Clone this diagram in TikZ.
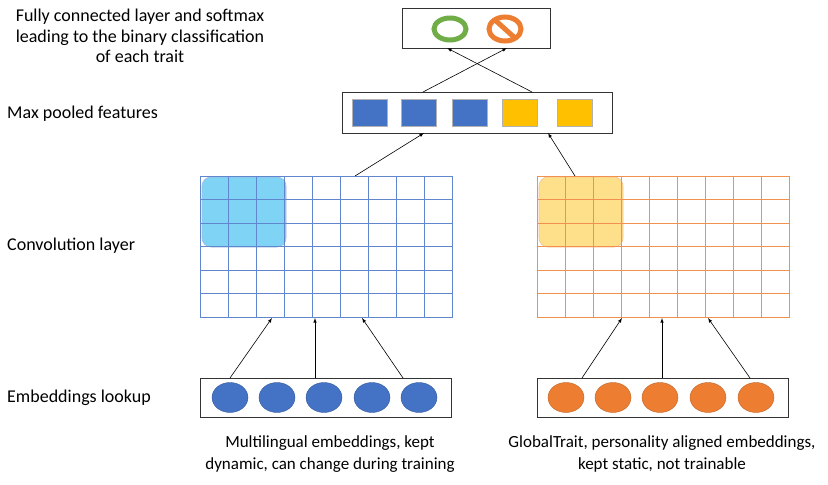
\documentclass[tikz,border=0pt]{standalone}
\usepackage{fontspec}
\setmainfont{Carlito}
\usetikzlibrary{shapes.geometric}
\begin{document}
\begin{tikzpicture}[x=1pt,y=-1pt,
  box/.style={draw=black!80,line width=0.8pt,fill=white},
  lab/.style={font=\fontsize{18}{20}\selectfont,anchor=west,inner sep=0},
  captext/.style={font=\fontsize{17}{22}\selectfont,align=center,inner sep=0},
  arr/.style={-latex,line width=0.6pt},
  sq/.style={draw=black!30,line width=0.4pt,minimum width=35pt,minimum height=27pt,inner sep=0},
  emb/.style={ellipse,minimum width=36pt,minimum height=30pt,inner sep=0},
]
\useasboundingbox (0,0) rectangle (828,485);
\definecolor{bl}{HTML}{4472C4}\definecolor{yl}{HTML}{FFC000}
\definecolor{or}{HTML}{ED7D31}\definecolor{gr}{HTML}{70AD47}
\definecolor{lb}{HTML}{7FD3F5}\definecolor{ly}{HTML}{FFE08A}
% labels
\node[font=\fontsize{18}{20.5}\selectfont,align=center,inner sep=0] (t1) at (140,36) {Fully connected layer and softmax\\leading to the binary classification\\of each trait};
\node[lab] (t2) at (7,114) {Max pooled features};
\node[lab] (t3) at (7,246) {Convolution layer};
\node[lab] (t4) at (7,398) {Embeddings lookup};
\node[captext] (c1) at (330,454) {Multilingual embeddings, kept\\dynamic, can change during training};
\node[captext] (c2) at (662,454) {GlobalTrait, personality aligned embeddings,\\kept static, not trainable};
% top box
\node[box,minimum width=148pt,minimum height=40pt] (top) at (476,28) {};
\draw[gr,line width=5pt] (450,29) ellipse (16pt and 11pt);
\draw[or,line width=5pt] (505,29) ellipse (16pt and 12pt);
\draw[or,line width=5pt] (495,20) -- (515,38);
\coordinate (ta) at (447,48); \coordinate (tb) at (507,48);
% max pool
\node[box,minimum width=270pt,minimum height=41pt] (mp) at (477,112.5) {};
\foreach \x/\c [count=\i] in {370/bl,419/bl,470/bl,520/yl,575/yl}
  \node[sq,fill=\c] (s\i) at (\x,112.5) {};
\coordinate (ma) at (423,92); \coordinate (mb) at (532,92);
\draw[arr] (ma) -- (tb);
\draw[arr] (mb) -- (ta);
% grids
\foreach \gx/\lc/\fc/\n in {200/bl/lb/L,537/or/ly/R}{
  \fill[\fc,draw=\lc!50,line width=0.6pt,rounded corners=9pt] (\gx+2,177) rectangle (\gx+86,247);
  \foreach \k in {1,...,8} \draw[\lc!85,line width=0.6pt] (\gx+28*\k,176) -- (\gx+28*\k,317);
  \foreach \k in {1,...,5} \draw[\lc!85,line width=0.6pt] (\gx,176+23.5*\k) -- (\gx+252,176+23.5*\k);
  \draw[\lc!85,line width=0.6pt] (\gx,176) rectangle (\gx+252,317);
  \coordinate (g\n) at (\gx,176);
}
\coordinate (gLa) at (355,176); \coordinate (gRa) at (575,176);
\coordinate (mpa) at (424,133); \coordinate (mpb) at (548,133);
\draw[arr] (gLa) -- (mpa);
\draw[arr] (gRa) -- (mpb);
% embeddings
\node[box,minimum width=251pt,minimum height=39pt] (eL) at (325.5,397.5) {};
\node[box,minimum width=251pt,minimum height=39pt] (eR) at (662.5,397.5) {};
\foreach \x [count=\i] in {230,277,324,372,419}
  \node[emb,fill=bl,draw=bl!80!black,line width=0.4pt] (a\i) at (\x,397.5) {};
\foreach \x [count=\i] in {566,613,660,708,756}
  \node[emb,fill=or,draw=or!80!black,line width=0.4pt] (b\i) at (\x,397.5) {};
\coordinate (l1) at (230,378); \coordinate (l2) at (315,378); \coordinate (l3) at (403,378);
\coordinate (L1) at (272,318); \coordinate (L2) at (315,318); \coordinate (L3) at (362,318);
\coordinate (r1) at (582,378); \coordinate (r2) at (662,378); \coordinate (r3) at (750,378);
\coordinate (R1) at (622,318); \coordinate (R2) at (662,318); \coordinate (R3) at (708,318);
\foreach \i in {1,2,3}{\draw[arr] (l\i) -- (L\i); \draw[arr] (r\i) -- (R\i);}
\end{tikzpicture}
\end{document}
